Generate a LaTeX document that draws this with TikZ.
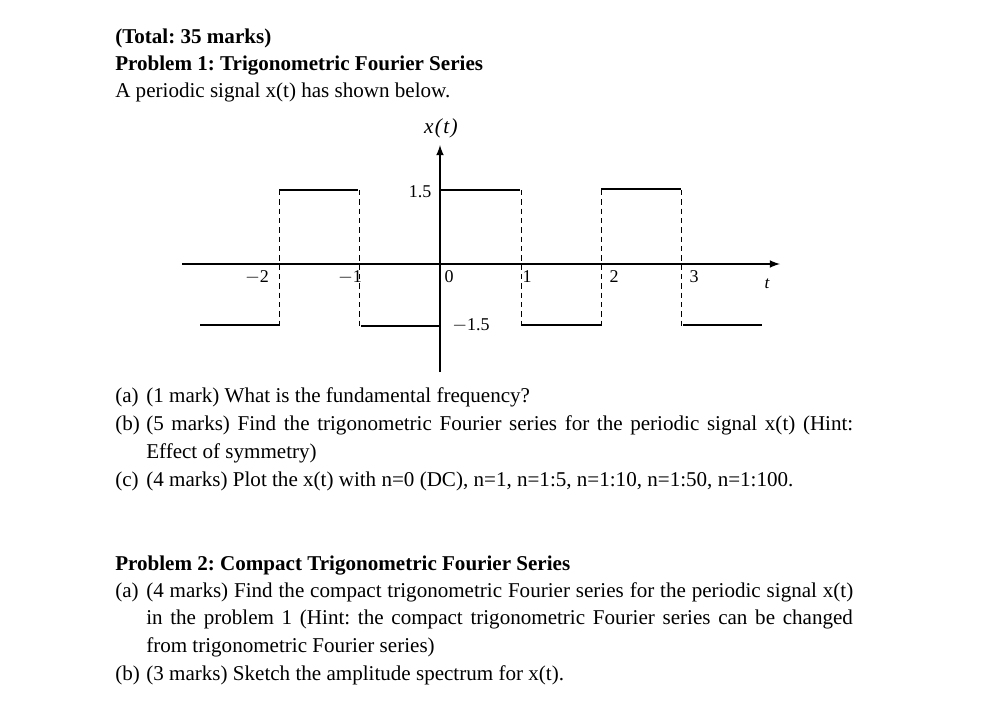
\documentclass[tikz,border=0pt]{standalone}
\usepackage{fontspec}
\setmainfont{Liberation Serif}
\frenchspacing
\begin{document}
\begin{tikzpicture}[x=0.75pt,y=-0.75pt,
  txt/.style={anchor=base west,inner sep=0pt,font=\fontsize{15.8pt}{19pt}\selectfont},
  jus/.style={txt,text width=553.5pt,align=justify},
  lbl/.style={inner sep=0pt,font=\fontsize{13.5pt}{15pt}\selectfont},
  sig/.style={line width=1pt},
  dsh/.style={dashed,line width=0.6pt,dash pattern=on 4pt off 3pt},
  ax/.style={line width=1.6pt,-latex}]
\useasboundingbox (0,0) rectangle (1008,721);
% text
\node[txt] (t1) at (115,43) {\textbf{(Total: 35 marks)}};
\node[txt] (t2) at (115,70) {\textbf{Problem 1: Trigonometric Fourier Series}};
\node[txt] (t3) at (115,97) {A periodic signal x(t) has shown below.};
\node[txt] (a1) at (115,402) {\makebox[23.3pt][l]{(a)}(1 mark) What is the fundamental frequency?};
\node[jus] (b1) at (115,430) {\makebox[23.3pt][l]{(b)}(5 marks) Find the trigonometric Fourier series for the periodic signal x(t) (Hint:\parfillskip=0pt\par};
\node[txt] (b2) at (146,458) {Effect of symmetry)};
\node[txt] (c1) at (115,486) {\makebox[23.3pt][l]{(c)}(4 marks) Plot the x(t) with n=0 (DC), n=1, n=1:5, n=1:10, n=1:50, n=1:100.};
\node[txt] (p2) at (115,570) {\textbf{Problem 2: Compact Trigonometric Fourier Series}};
\node[jus] (d1) at (115,597) {\makebox[23.3pt][l]{(a)}(4 marks) Find the compact trigonometric Fourier series for the periodic signal x(t)\parfillskip=0pt\par};
\node[jus,text width=530pt] (d2) at (146,624) {in the problem 1 (Hint: the compact trigonometric Fourier series can be changed\parfillskip=0pt\par};
\node[txt] (d3) at (146,652) {from trigonometric Fourier series)};
\node[txt] (e1) at (115,680) {\makebox[23.3pt][l]{(b)}(3 marks) Sketch the amplitude spectrum for x(t).};
% axes
\coordinate (xl) at (182,264); \coordinate (xr) at (780,264);
\coordinate (yb) at (440,372); \coordinate (yt) at (440,145);
\draw[ax] (xl) -- (xr);
\draw[ax] (yb) -- (yt);
\node[lbl,font=\fontsize{16pt}{18pt}\itshape] (xt) at (441,128) {x\kern1pt(\kern1pt t\kern1pt)};
\node[lbl,font=\fontsize{13pt}{14pt}\itshape] (tl) at (767,284) {t};
% signal
\draw[sig] (200,325) -- (279,325);
\draw[sig] (279,190) -- (358,190);
\draw[sig] (361,326) -- (440,326);
\draw[sig] (440,190) -- (520,190);
\draw[sig] (522,325) -- (601,325);
\draw[sig] (601,189) -- (681,189);
\draw[sig] (683,325) -- (762,325);
\foreach \x in {279,359,521,601,681}{\draw[dsh] (\x,190) -- (\x,328);}
% labels
\node[lbl] (m2) at (257,277) {$-$2};
\node[lbl] (m1) at (350,277) {$-$1};
\node[lbl] (z) at (449,277) {0};
\node[lbl] (o1) at (527,277) {1};
\node[lbl] (o2) at (614,277) {2};
\node[lbl] (o3) at (694,277) {3};
\node[lbl] (hp) at (420,192) {1.5};
\node[lbl] (hn) at (471,325) {$-$1.5};
\end{tikzpicture}
\end{document}
